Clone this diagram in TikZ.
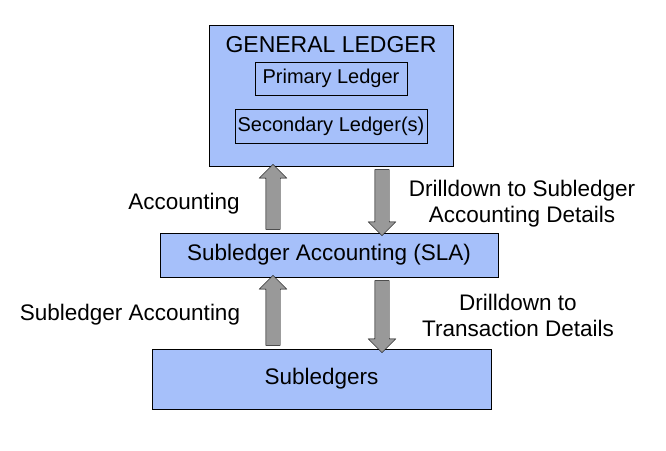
\documentclass[tikz,border=0pt]{standalone}
\usepackage{fontspec}
\setmainfont{Liberation Sans}
\usetikzlibrary{shapes.arrows,patterns}
\definecolor{boxblue}{RGB}{166,192,250}

\tikzset{
  ledgerbox/.style={draw=black, fill=boxblue, inner sep=0pt},
  innerbox/.style={draw=black, fill=boxblue, inner sep=0pt},
  blockarrow/.style={draw=black, fill=gray!80, single arrow, inner sep=0pt,
    minimum width=27pt, single arrow head extend=6.5pt, single arrow head indent=0pt,
    single arrow tip angle=90, text height=14pt, text depth=0pt},
  lbl/.style={font=\fontsize{22.5}{26}\selectfont, align=center},
  smalllbl/.style={font=\fontsize{20}{24}\selectfont}
}

\begin{document}
\begin{tikzpicture}[x=1pt,y=1pt]
\useasboundingbox (0,0) rectangle (666,450);

% boxes
\node[ledgerbox, minimum width=244pt, minimum height=141pt] (gl) at (331,354.5) {};
\node[lbl, font=\fontsize{23}{26}\selectfont] (gltitle) at (331,405) {GENERAL LEDGER};
\node[innerbox, minimum width=152pt, minimum height=33pt, smalllbl] (primary) at (331,371.5) {Primary Ledger};
\node[innerbox, minimum width=192pt, minimum height=34pt, smalllbl] (secondary) at (331,324) {Secondary Ledger(s)};
\node[ledgerbox, minimum width=338pt, minimum height=44pt, lbl] (sla) at (329,195) {Subledger Accounting (SLA)};
\node[ledgerbox, minimum width=339pt, minimum height=60pt, lbl] (sub) at (321.5,71) {Subledgers};

% arrows
\node[blockarrow, rotate=90, minimum height=65pt] (up1) at (273,249.5) {};
\node[blockarrow, rotate=-90, minimum height=66pt] (down1) at (382,251) {};
\node[blockarrow, rotate=90, minimum height=70pt] (up2) at (273,136) {};
\node[blockarrow, rotate=-90, minimum height=72pt] (down2) at (382,137) {};

% labels
\node[lbl] (lacc) at (184,246) {Accounting};
\node[lbl] (ldrill1) at (522,246) {Drilldown to Subledger\\Accounting Details};
\node[lbl] (lsla) at (130,135) {Subledger Accounting};
\node[lbl] (ldrill2) at (518,135) {Drilldown to\\Transaction Details};
\end{tikzpicture}
\end{document}
